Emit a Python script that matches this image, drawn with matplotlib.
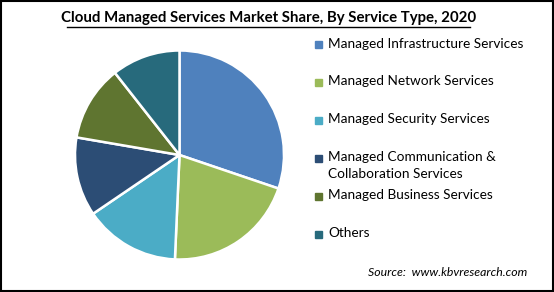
import matplotlib.pyplot as plt
from matplotlib.patches import Rectangle

# data
labels = ['Managed Infrastructure Services', 'Managed Network Services',
          'Managed Security Services', 'Managed Communication &\nCollaboration Services',
          'Managed Business Services', 'Others']
shares = [30.2, 20.5, 14.8, 12.2, 11.7, 10.6]
colors = ['#4F81BD', '#9BBB59', '#4BACC6', '#2C4D75', '#5F7530', '#276A7C']

W, H = 554, 292
fig = plt.figure(figsize=(W / 100, H / 100), dpi=100)
plt.rcParams['font.family'] = ['Lato', 'DejaVu Sans']

# pie
R = 104.5
ax = fig.add_axes([(179.5 - R) / W, 1 - (155 + R) / H, 2 * R / W, 2 * R / H])
ax.pie(shares, colors=colors, startangle=90, counterclock=False,
       wedgeprops=dict(edgecolor='white', linewidth=1.8))
ax.set_xlim(-1, 1)
ax.set_ylim(-1, 1)
ax.set_aspect('auto')
ax.axis('off')

# title
fig.text(268.5 / W, 1 - 18 / H, 'Cloud Managed Services Market Share, By Service Type, 2020',
         ha='center', va='center', fontsize=10.8, fontweight='bold')
fig.add_artist(plt.Line2D([67 / W, 470 / W], [1 - 27 / H, 1 - 27 / H], color='black', lw=1))

# legend
ys = [45, 82, 120, 158, 196, 234]
for lab, c, y in zip(labels, colors, ys):
    fig.patches.append(Rectangle((315 / W, 1 - (y + 3.5) / H), 7 / W, 7 / H,
                                 transform=fig.transFigure, color=c))
    fig.text(328 / W, 1 - (y - 7) / H, lab, ha='left', va='top', fontsize=9.8,
             linespacing=1.5)

fig.text(527 / W, 1 - 273 / H, 'Source:  www.kbvresearch.com', ha='right', va='center',
         fontsize=8.8, style='italic')

# frame
fig.patches.append(Rectangle((1 / W, 1 / H), (W - 2) / W, (H - 2) / H, transform=fig.transFigure,
                             fill=False, edgecolor='black', linewidth=1.5))

fig.savefig('out.png', dpi=100)
